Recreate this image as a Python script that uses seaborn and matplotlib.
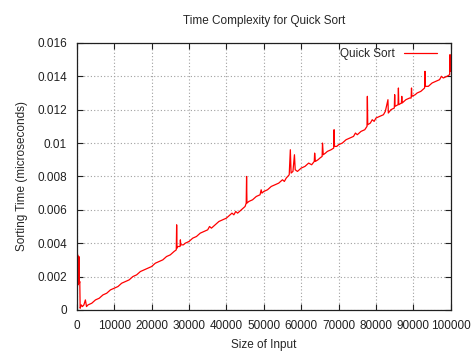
import matplotlib
matplotlib.use('Agg')
import matplotlib.pyplot as plt
import seaborn as sns
import pandas as pd

# ============================================================
# Data
# ============================================================
input_size = [
    0, 40, 80, 120, 160, 200, 240, 280, 320, 360, 400, 440, 480, 520, 560, 600, 650, 700,
    800, 900, 1200, 1500, 1900, 2300, 2600, 3000, 4000, 5000, 6000, 7000, 8000, 9000,
    10000, 11000, 12000, 13000, 14000, 15000, 16000, 17000, 18000, 19000, 20000,
    21000, 22000, 23000, 24000, 25000, 26000, 26600, 26700, 26800, 27000, 27600, 27700,
    27800, 28500, 29000, 30000, 31000, 32000, 33000, 34000, 35000, 35500, 36000, 37000,
    38000, 39000, 40000, 41000, 41500, 42000, 42500, 43000, 44000, 45000, 45300, 45400,
    45500, 46000, 47000, 48000, 49000, 49300, 49500, 50000, 51000, 52000, 53000, 54000,
    55000, 55500, 56000, 56800, 57100, 57300, 57800, 58200, 58400, 59000, 60000, 61000,
    62000, 62800, 63500, 63600, 63800, 64500, 65000, 65600, 65700, 65900, 66500, 67000,
    68000, 68700, 68800, 68900, 69500, 70000, 71000, 72000, 73000, 74000, 74500, 75000,
    76000, 77000, 77600, 77700, 77800, 78500, 79000, 79500, 80000, 81000, 82000, 82500,
    83200, 83300, 84000, 84900, 85000, 85100, 85900, 86000, 86100, 86800, 86900, 87000,
    88000, 89000, 89400, 89500, 89600, 90500, 91000, 92000, 93000, 93100, 93200, 94000,
    95000, 96000, 97000, 97500, 98000, 99000, 99700, 99800, 99900, 100000,
]
sort_time = [
    0.0031, 0.0014, 0.0035, 0.0016, 0.0034, 0.0015, 0.0033, 0.0017, 0.0032, 0.0015,
    0.0031, 0.0018, 0.0030, 0.0016, 0.0032, 0.0017, 0.0029, 0.0016,
    0.0017, 0.0001, 0.0003, 0.0002, 0.0003, 0.0006, 0.0002, 0.0003, 0.0004, 0.0006,
    0.0007, 0.0009, 0.0010, 0.0012,
    0.0013, 0.0014, 0.0016, 0.0017, 0.0018, 0.0020, 0.0021, 0.0023, 0.0024, 0.0025, 0.0026,
    0.0028, 0.0029, 0.0030, 0.0032, 0.0033, 0.0035, 0.0036, 0.0051, 0.0037, 0.0038, 0.0038,
    0.0042, 0.0039, 0.0039, 0.0040, 0.0041, 0.0043, 0.0044, 0.0046, 0.0047, 0.0048, 0.0050,
    0.0049, 0.0051, 0.0053, 0.0054, 0.0055, 0.0057, 0.0058, 0.0057, 0.0059, 0.0058, 0.0060,
    0.0062, 0.0064, 0.0080, 0.0064, 0.0065, 0.0066, 0.0068, 0.0069, 0.0072, 0.0070, 0.0071,
    0.0072, 0.0074, 0.0075, 0.0076, 0.0078, 0.0077, 0.0079, 0.0081, 0.0096, 0.0082, 0.0083,
    0.0093, 0.0084, 0.0083, 0.0085, 0.0086, 0.0088, 0.0087, 0.0089, 0.0094, 0.0089, 0.0090,
    0.0091, 0.0092, 0.0100, 0.0093, 0.0094, 0.0095, 0.0096, 0.0097, 0.0108, 0.0098, 0.0098,
    0.0099, 0.0100, 0.0102, 0.0103, 0.0104, 0.0106, 0.0105, 0.0107, 0.0108, 0.0110, 0.0128,
    0.0111, 0.0112, 0.0114, 0.0113, 0.0115, 0.0116, 0.0117, 0.0119, 0.0126, 0.0118, 0.0120,
    0.0121, 0.0129, 0.0122, 0.0123, 0.0133, 0.0123, 0.0124, 0.0128, 0.0124, 0.0126, 0.0127,
    0.0127, 0.0133, 0.0128, 0.0129, 0.0130, 0.0131, 0.0133, 0.0143, 0.0134, 0.0134, 0.0136,
    0.0137, 0.0138, 0.0140, 0.0139, 0.0140, 0.0141, 0.0153, 0.0143, 0.0150,
]
x_ticks = [0, 10000, 20000, 30000, 40000, 50000, 60000, 70000, 80000, 90000, 100000]
y_ticks = [0, 0.002, 0.004, 0.006, 0.008, 0.01, 0.012, 0.014, 0.016]
y_tick_labels = ['0', '0.002', '0.004', '0.006', '0.008', '0.01', '0.012', '0.014', '0.016']

df = pd.DataFrame({'size': input_size, 'time': sort_time})

# ============================================================
# Style (gnuplot look)
# ============================================================
sns.set_style('ticks')
plt.rcParams['font.family'] = ['Liberation Sans', 'DejaVu Sans']
plt.rcParams['font.size'] = 8.5

fig = plt.figure(figsize=(4.74, 3.55), dpi=100)
ax = fig.add_axes([0.162, 0.127, 0.789, 0.752])

sns.lineplot(data=df, x='size', y='time', color='#ff0000', linewidth=0.9,
             estimator=None, sort=False, label='Quick Sort', ax=ax)

ax.set_xlim(0, 100000)
ax.set_ylim(0, 0.016)
ax.set_xticks(x_ticks)
ax.set_xticklabels([str(t) for t in x_ticks])
ax.set_yticks(y_ticks)
ax.set_yticklabels(y_tick_labels)
ax.grid(True, color='#a0a0a0', linestyle=(0, (1, 2)), linewidth=0.8)
ax.tick_params(direction='in', top=True, right=True, length=4, width=0.8,
               pad=7, labelsize=8.5, colors='#202020')
for s in ax.spines.values():
    s.set_linewidth(0.9)
    s.set_color('#202020')

ax.set_title('Time Complexity for Quick Sort', fontsize=8.5, pad=14)
ax.set_xlabel('Size of Input', fontsize=8.5, labelpad=5)
ax.set_ylabel('Sorting Time (microseconds)', fontsize=8.5, labelpad=7)
ax.legend(loc='upper right', bbox_to_anchor=(0.977, 0.998), borderaxespad=0,
          frameon=False, markerfirst=False, handlelength=2.8, fontsize=8.5)

plt.savefig('out.png', dpi=100)
plt.close()
